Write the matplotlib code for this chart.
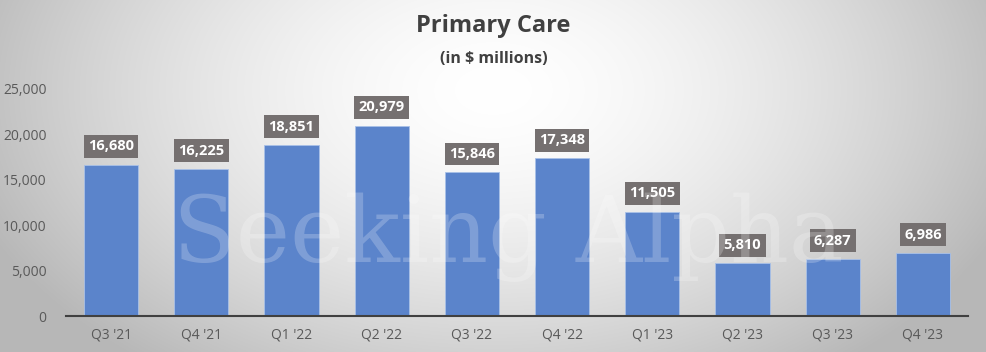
import numpy as np
import matplotlib
matplotlib.use("Agg")
import matplotlib.pyplot as plt

categories = ["Q3 '21", "Q4 '21", "Q1 '22", "Q2 '22", "Q3 '22", "Q4 '22", "Q1 '23", "Q2 '23", "Q3 '23", "Q4 '23"]
values = [16680, 16225, 18851, 20979, 15846, 17348, 11505, 5810, 6287, 6986]
yticks = [0, 5000, 10000, 15000, 20000, 25000]

plt.rcParams['font.family'] = ['Open Sans', 'DejaVu Sans']

fig = plt.figure(figsize=(9.87, 3.52), dpi=100)

# background radial gradient
bg = fig.add_axes([0, 0, 1, 1])
yy, xx = np.mgrid[0:352, 0:987]
d = np.sqrt(((xx - 493) / 600.0) ** 2 + ((yy - 90) / 380.0) ** 2)
g = np.clip(1.0 - 0.32 * d ** 1.6, 0.72, 1.0)
bg.imshow(np.dstack([g, g, g]), aspect='auto', extent=[0, 1, 0, 1], origin='upper')
bg.set_axis_off()

W, H = 987, 352
ax = fig.add_axes([66 / W, (H - 316) / H, (968 - 66) / W, (316 - 89) / H])
ax.patch.set_alpha(0)
x = np.arange(len(categories))
ax.bar(x, values, width=0.6, color='#5B84CB', edgecolor='#A9C1E8', linewidth=0.6, zorder=2)
ax.set_xlim(-0.5, len(categories) - 0.5)
ax.set_ylim(0, 25000)
ax.set_yticks(yticks)
ax.set_yticklabels([f"{v:,}" for v in yticks])
ax.set_xticks(x)
ax.set_xticklabels(categories)
ax.tick_params(axis='both', length=0, labelsize=10, colors='#595959')
ax.tick_params(axis='y', pad=14)
ax.tick_params(axis='x', pad=8)
for s in ['top', 'right', 'left']:
    ax.spines[s].set_visible(False)
ax.spines['bottom'].set_color('#404040')
ax.spines['bottom'].set_linewidth(1.5)

for xi, v in zip(x, values):
    ax.annotate(f"{v:,}", (xi, v), xytext=(0, 13), textcoords='offset points',
                ha='center', va='center', fontsize=10.5, fontweight='bold', color='white',
                bbox=dict(boxstyle='square,pad=0.3', fc='#757070', ec='none'), zorder=4)

# watermark
fig.text(0.515, 0.325, "Seeking Alpha", fontsize=66, family='DejaVu Serif', color='white',
         alpha=0.22, ha='center', va='center', zorder=10)

fig.text(0.5, 0.925, "Primary Care", ha='center', va='center', fontsize=17, fontweight='bold', color='#404040')
fig.text(0.5, 0.833, "(in $ millions)", ha='center', va='center', fontsize=11.5, fontweight='bold', color='#404040')

fig.savefig("out.png", dpi=100)
